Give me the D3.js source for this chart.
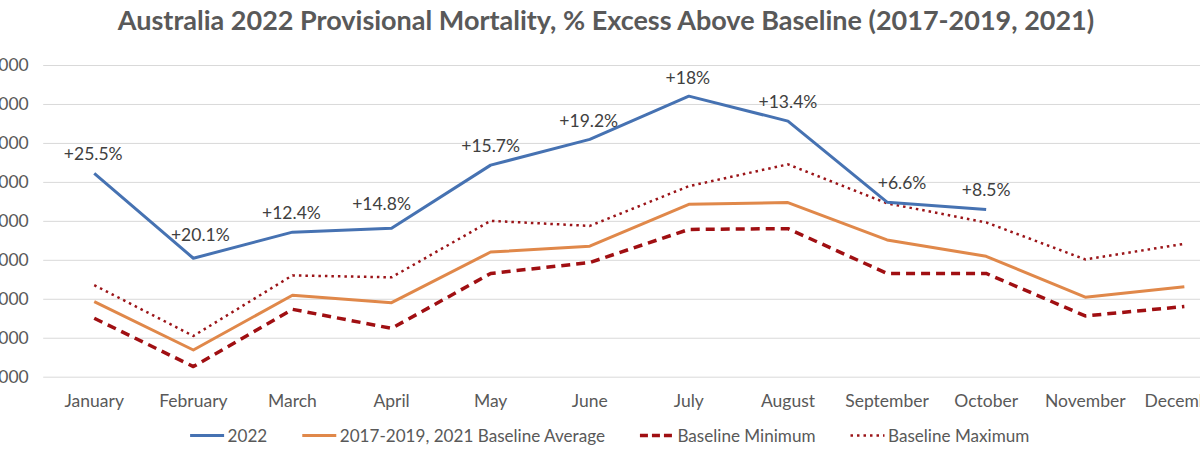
<!DOCTYPE html>
<html lang="en">

<head>
    <meta charset="utf-8">
    <script src="https://d3js.org/d3.v7.min.js"></script>
    <style>
        body { margin: 0; background: #fff; }
        text { font-family: Lato, "Open Sans", sans-serif; }
    </style>
</head>

<body>

    <script>

        // monthly death counts
        var months = ["January", "February", "March", "April", "May", "June",
            "July", "August", "September", "October", "November", "December"];

        var deaths2022 = [16220, 14040, 14710, 14810, 16430, 17090, 18200, 17560, 15480, 15290];
        var baselineAvg = [12925, 11685, 13090, 12900, 14200, 14350, 15425, 15470, 14510, 14090, 13040, 13310];
        var baselineMin = [12500, 11260, 12730, 12240, 13650, 13930, 14780, 14800, 13650, 13650, 12560, 12800];
        var baselineMax = [13350, 12045, 13600, 13550, 15000, 14870, 15890, 16450, 15450, 14960, 14010, 14410];

        // % excess of 2022 above the baseline average
        var excessPct = [25.5, 20.1, 12.4, 14.8, 15.7, 19.2, 18, 13.4, 6.6, 8.5];

        var yTicks = [11000, 12000, 13000, 14000, 15000, 16000, 17000, 18000, 19000];

        // a few labels were dragged by hand in the original
        var labelNudge = [[-1, 0], [7, -3.5], [-1, 0], [-10, -5], [0, 0], [-1, 1], [-1, 1], [0, 0], [15, 0], [0, 0]];

        var width = 1200,
            height = 460,
            plotLeft = 44.7,
            plotRight = 1233.9,
            plotTop = 65,
            plotBottom = 376.7;

        var svg = d3.select("body").append("svg")
            .attr("width", width)
            .attr("height", height);

        var x = d3.scaleBand()
            .domain(months)
            .range([plotLeft, plotRight])
            .padding(0);

        var y = d3.scaleLinear()
            .domain([11000, 19000])
            .range([plotBottom, plotTop]);

        function cx(i) { return x(months[i]) + x.bandwidth() / 2; }

        // title
        svg.append("text")
            .attr("x", 606)
            .attr("y", 30)
            .attr("text-anchor", "middle")
            .attr("font-size", 27)
            .attr("font-weight", "bold")
            .attr("fill", "#595959")
            .text("Australia 2022 Provisional Mortality, % Excess Above Baseline (2017-2019, 2021)");

        // gridlines + y labels (the left edge of the labels is cropped, as in the source image)
        var yAxis = svg.append("g")
            .attr("transform", "translate(" + (plotLeft - 1.5) + ",0)")
            .call(d3.axisLeft(y)
                .tickValues(yTicks)
                .tickSize(-(plotRight - plotLeft))
                .tickPadding(14.5)
                .tickFormat(d3.format(",")));

        yAxis.select(".domain").remove();
        yAxis.selectAll("line").attr("stroke", "#d9d9d9");
        yAxis.selectAll("text")
            .attr("font-size", 17.5)
            .attr("fill", "#595959")
            .style("font-family", "Lato, sans-serif");

        // month labels
        var xAxis = svg.append("g")
            .attr("transform", "translate(0," + plotBottom + ")")
            .call(d3.axisBottom(x).tickSize(0).tickPadding(18));

        xAxis.select(".domain").remove();
        xAxis.selectAll("text")
            .attr("font-size", 17.5)
            .attr("fill", "#595959")
            .style("font-family", "Lato, sans-serif");

        var series = [
            { name: "2022", values: deaths2022, color: "#4672b2", width: 3, dash: null },
            { name: "2017-2019, 2021 Baseline Average", values: baselineAvg, color: "#e0884a", width: 3, dash: null },
            { name: "Baseline Minimum", values: baselineMin, color: "#a00f12", width: 3.5, dash: "9,6" },
            { name: "Baseline Maximum", values: baselineMax, color: "#9b1418", width: 2.5, dash: "2.5,4" }
        ];

        var line = d3.line()
            .x(function (d, i) { return cx(i); })
            .y(function (d) { return y(d); });

        // draw back to front so 2022 sits on top
        svg.append("g").selectAll("path")
            .data(series.slice().reverse())
            .enter().append("path")
            .attr("fill", "none")
            .attr("stroke", function (d) { return d.color; })
            .attr("stroke-width", function (d) { return d.width; })
            .attr("stroke-dasharray", function (d) { return d.dash; })
            .attr("stroke-linejoin", "round")
            .attr("d", function (d) { return line(d.values); });

        // data labels on the 2022 line
        svg.append("g").selectAll("text")
            .data(excessPct)
            .enter().append("text")
            .attr("x", function (d, i) { return cx(i) + labelNudge[i][0]; })
            .attr("y", function (d, i) { return y(deaths2022[i]) - 19.5 + labelNudge[i][1]; })
            .attr("dy", "0.35em")
            .attr("text-anchor", "middle")
            .attr("font-size", 17.5)
            .attr("fill", "#404040")
            .text(function (d) { return "+" + d + "%"; });

        // legend, laid out left to right then centred
        var legend = svg.append("g");
        var item = legend.selectAll("g")
            .data(series)
            .enter().append("g");

        item.append("line")
            .attr("x1", 0).attr("x2", 34)
            .attr("y1", 0).attr("y2", 0)
            .attr("stroke", function (d) { return d.color; })
            .attr("stroke-width", function (d) { return d.width; })
            .attr("stroke-dasharray", function (d) { return d.dash === "9,6" ? "8,4" : d.dash; });

        item.append("text")
            .attr("x", 37.5)
            .attr("dy", "0.35em")
            .attr("font-size", 17.1)
            .attr("fill", "#595959")
            .text(function (d) { return d.name; });

        var offset = 0;
        item.each(function () {
            var w = 37.5 + d3.select(this).select("text").node().getComputedTextLength();
            d3.select(this).attr("transform", "translate(" + offset + ",0)");
            offset += w + 35;
        });
        var legendWidth = offset - 35;
        legend.attr("transform", "translate(" + (609.7 - legendWidth / 2) + ",435.5)");

    </script>

</body>

</html>
